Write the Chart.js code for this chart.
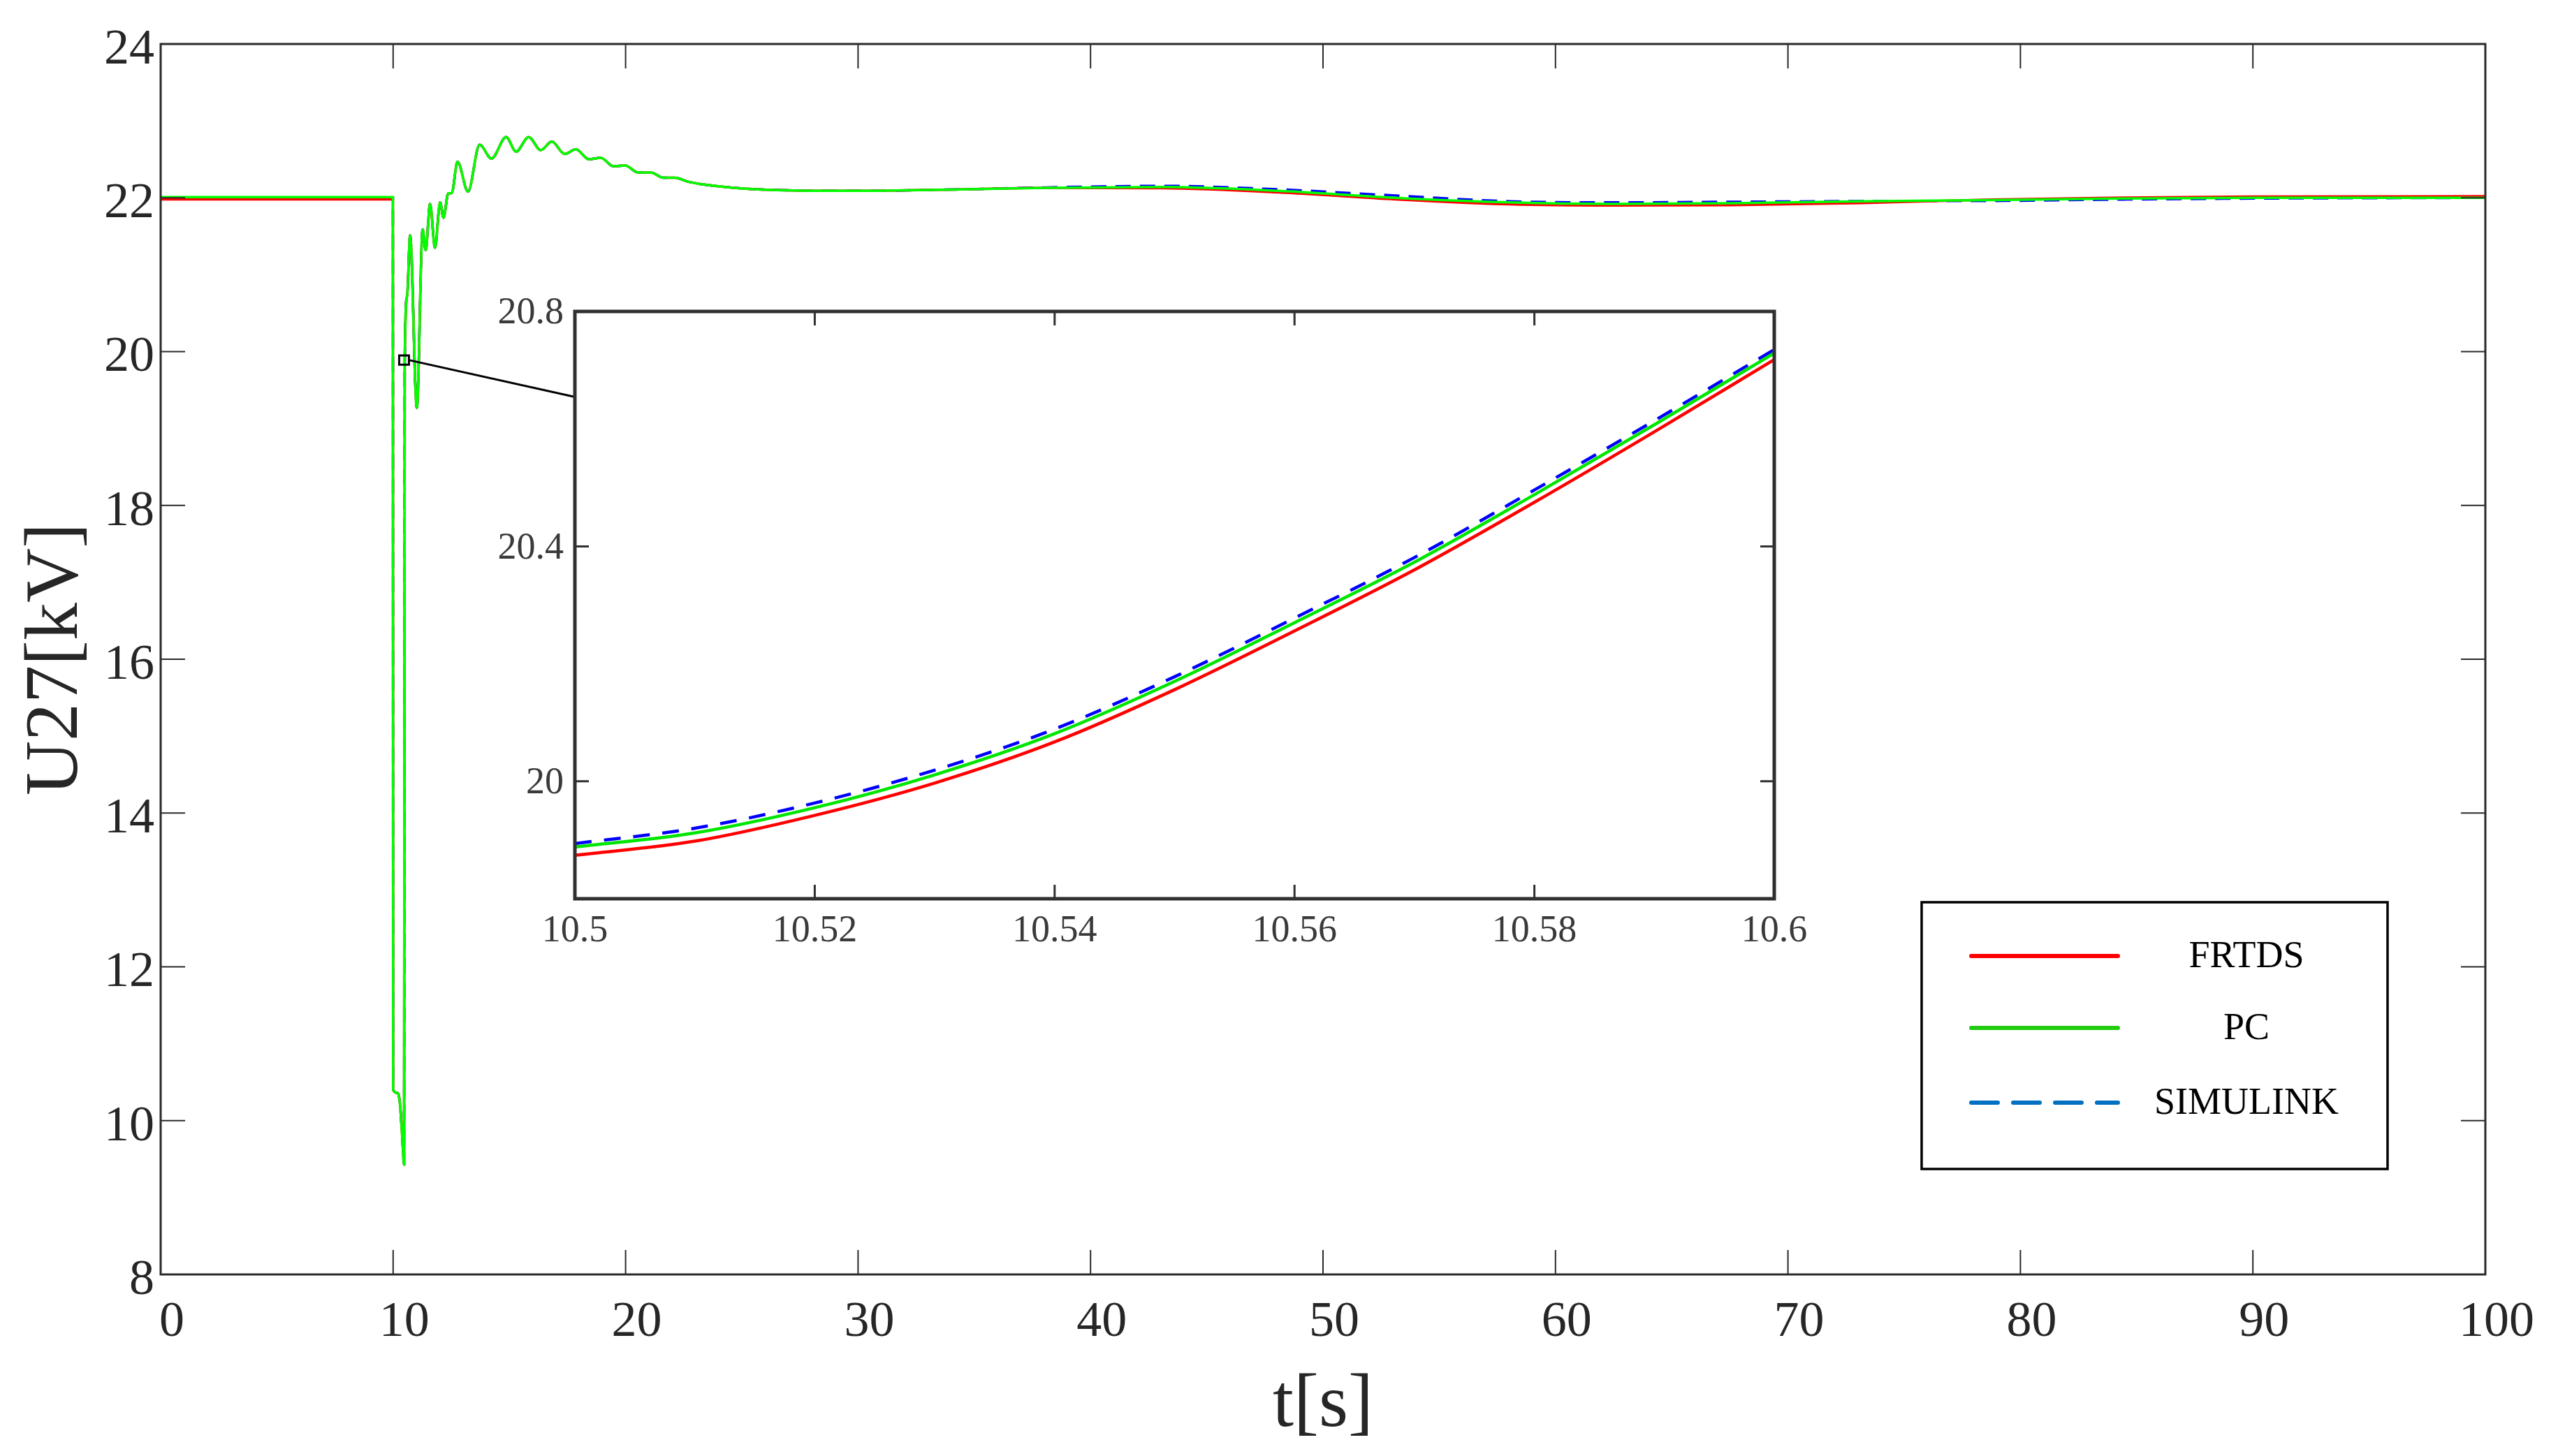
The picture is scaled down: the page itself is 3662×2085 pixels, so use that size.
<!DOCTYPE html>
<html>
<head>
<meta charset="utf-8">
<title>U27</title>
<script src="https://cdn.jsdelivr.net/npm/chart.js@4.4.1/dist/chart.umd.min.js"></script>
<style>
  html, body { margin: 0; padding: 0; background: #fff; }
  #wrap { position: relative; width: 3662px; height: 2085px; }
  #main { position: absolute; left: 0; top: 0; }
  #inset { position: absolute; left: 700px; top: 400px; }
</style>
</head>
<body>
<div id="wrap">
  <canvas id="main" width="3662" height="2085"></canvas>
  <canvas id="inset" width="1940" height="980"></canvas>
</div>
<script>
// ---- main plot data (t in s, U27 in kV) ----
var tTicks = [0, 10, 20, 30, 40, 50, 60, 70, 80, 90, 100];
var uTicks = [8, 10, 12, 14, 16, 18, 20, 22, 24];

var preT = [0, 9.99];
var preRed = [21.98, 21.98];
var preGreen = [22.01, 22.01];
var preBlue = [22.0, 22.0];

// fault transient, the three curves lie on top of each other here
var transT = [10.0, 10.2, 10.3, 10.4, 10.47, 10.5, 10.6, 10.73, 11.02, 11.27, 11.40, 11.59, 11.80, 12.02, 12.17,
              12.37, 12.52, 12.77, 13.22, 13.72, 14.23, 14.86, 15.29, 15.83, 16.35, 16.83, 17.38, 17.86, 18.43,
              18.93, 19.48, 19.98, 20.53, 21.08, 21.63, 22.13, 22.68];
var transU = [10.4, 10.36, 10.2, 9.75, 9.43, 19.87, 20.72, 21.51, 19.27, 21.59, 21.32, 21.92, 21.35, 21.94, 21.74,
              22.06, 22.06, 22.47, 22.08, 22.69, 22.51, 22.79, 22.6, 22.79, 22.62, 22.73, 22.57, 22.63, 22.5,
              22.52, 22.41, 22.42, 22.33, 22.33, 22.26, 22.26, 22.21];

var tailT = [23.2, 25.7, 29.9, 34.4, 38.1, 43.1, 48.1, 53.1, 58.0, 62.5, 67.6, 73.2, 78.8, 84.4, 90.0, 100];
var tailRed = [22.18, 22.11, 22.09, 22.11, 22.13, 22.125, 22.07, 21.98, 21.915, 21.90, 21.905, 21.933, 21.978, 22.003, 22.015, 22.02];
var tailGreen = [22.18, 22.11, 22.09, 22.11, 22.13, 22.14, 22.09, 22.0, 21.94, 21.92, 21.93, 21.955, 21.97, 21.99, 22.0, 22.0];
var tailBlue = [22.18, 22.11, 22.09, 22.11, 22.135, 22.155, 22.11, 22.03, 21.955, 21.94, 21.948, 21.957, 21.96, 21.978, 21.99, 22.0];

// ---- zoomed window 10.5 .. 10.6 s ----
var insetT = [10.50, 10.51, 10.52, 10.53, 10.54, 10.55, 10.56, 10.57, 10.58, 10.59, 10.60];
var insetRed = [19.874, 19.898, 19.942, 19.997, 20.067, 20.156, 20.256, 20.360, 20.475, 20.595, 20.718];
var insetGreen = [19.888, 19.912, 19.955, 20.011, 20.081, 20.170, 20.270, 20.373, 20.488, 20.607, 20.729];
var insetBlue = [19.894, 19.920, 19.963, 20.019, 20.089, 20.178, 20.278, 20.381, 20.496, 20.614, 20.735];
var insetXTicks = [10.5, 10.52, 10.54, 10.56, 10.58, 10.6];
var insetYTicks = [20, 20.4, 20.8];

// little box on the main curve and the line to the zoom window
var markX = [10.26, 10.68];
var markY = [19.83, 19.95];
var linkFrom = [10.68, 19.89];
var linkTo = [17.83, 19.41];

var labels = ["FRTDS", "PC", "SIMULINK"];

var serif = "'Liberation Serif', 'Times New Roman', serif";
var ink = "#262626";

function pts(ts, vs) {
    return ts.map(function (t, i) { return {x: t, y: vs[i]}; });
}

function frameTicks(len, tickW, frameW, color) {
    return {
        id: 'frameTicks',
        afterDatasetsDraw: function (chart) {
            var ctx = chart.ctx, a = chart.chartArea, x = chart.scales.x, y = chart.scales.y;
            ctx.save();
            ctx.strokeStyle = color;
            ctx.lineWidth = tickW;
            ctx.beginPath();
            x.ticks.forEach(function (t) {
                var px = x.getPixelForValue(t.value);
                ctx.moveTo(px, a.bottom); ctx.lineTo(px, a.bottom - len);
                ctx.moveTo(px, a.top); ctx.lineTo(px, a.top + len);
            });
            y.ticks.forEach(function (t) {
                var py = y.getPixelForValue(t.value);
                ctx.moveTo(a.left, py); ctx.lineTo(a.left + len, py);
                ctx.moveTo(a.right, py); ctx.lineTo(a.right - len, py);
            });
            ctx.stroke();
            ctx.lineWidth = frameW;
            ctx.strokeRect(a.left, a.top, a.right - a.left, a.bottom - a.top);
            ctx.restore();
        }
    };
}

var zoomMark = {
    id: 'zoomMark',
    afterDatasetsDraw: function (chart) {
        var ctx = chart.ctx, x = chart.scales.x, y = chart.scales.y;
        ctx.save();
        ctx.strokeStyle = "#000";
        ctx.lineWidth = 3;
        var x0 = x.getPixelForValue(markX[0]), x1 = x.getPixelForValue(markX[1]);
        var y0 = y.getPixelForValue(markY[1]), y1 = y.getPixelForValue(markY[0]);
        ctx.strokeRect(x0, y0, x1 - x0, y1 - y0);
        ctx.beginPath();
        ctx.moveTo(x.getPixelForValue(linkFrom[0]), y.getPixelForValue(linkFrom[1]));
        ctx.lineTo(x.getPixelForValue(linkTo[0]), y.getPixelForValue(linkTo[1]));
        ctx.stroke();
        ctx.restore();
    }
};

// legend box inside the plot, drawn by hand like the figure
var boxLegend = {
    id: 'boxLegend',
    afterDraw: function (chart) {
        var ctx = chart.ctx;
        var cols = ["#ff0000", "#22cc11", "#0070c0"];
        var rows = [1369, 1472, 1579];
        ctx.save();
        ctx.fillStyle = "#fff";
        ctx.fillRect(2751, 1292, 667, 382);
        ctx.strokeStyle = "#000";
        ctx.lineWidth = 3.5;
        ctx.strokeRect(2751, 1292, 667, 382);
        ctx.lineCap = "round";
        ctx.lineWidth = 6;
        ctx.font = "54px " + serif;
        ctx.textAlign = "center";
        ctx.textBaseline = "middle";
        for (var i = 0; i < 3; i++) {
            ctx.strokeStyle = cols[i];
            ctx.setLineDash(i == 2 ? [38, 22] : []);
            ctx.beginPath();
            ctx.moveTo(2822, rows[i]);
            ctx.lineTo(3032, rows[i]);
            ctx.stroke();
            ctx.fillStyle = "#000";
            ctx.fillText(labels[i], 3216, rows[i] + 2);
        }
        ctx.restore();
    }
};

var mainChart = new Chart(document.getElementById("main"), {
    type: 'line',
    data: {
        datasets: [
            {label: labels[0], data: pts(preT.concat(transT, tailT), preRed.concat(transU, tailRed)),
             borderColor: "#ff0000", order: 1},
            {label: labels[1], data: pts(preT.concat(transT, tailT), preGreen.concat(transU, tailGreen)),
             borderColor: "#00ff00", order: 0},
            {label: labels[2], data: pts(preT.concat(transT, tailT), preBlue.concat(transU, tailBlue)),
             borderColor: "#0000ff", borderDash: [22, 13], order: 2}
        ]
    },
    options: {
        responsive: false,
        animation: false,
        devicePixelRatio: 1,
        layout: {padding: {left: 0, top: 63, right: 104, bottom: 0}},
        plugins: {legend: {display: false}, tooltip: {enabled: false}},
        elements: {
            point: {radius: 0},
            line: {borderWidth: 3.5, cubicInterpolationMode: 'monotone', fill: false}
        },
        scales: {
            x: {
                type: 'linear', min: 0, max: 100,
                afterBuildTicks: function (s) { s.ticks = tTicks.map(function (v) { return {value: v}; }); },
                afterFit: function (s) { s.height = 260; s.paddingLeft = 0; s.paddingRight = 0; },
                grid: {display: false, drawTicks: false},
                border: {display: false},
                ticks: {padding: 26, labelOffset: 16, color: ink, font: {family: serif, size: 72}, maxRotation: 0, autoSkip: false},
                title: {display: true, text: "t[s]", color: ink, font: {family: serif, size: 108}, padding: {top: 0, bottom: 7}}
            },
            y: {
                type: 'linear', min: 8, max: 24,
                afterBuildTicks: function (s) { s.ticks = uTicks.map(function (v) { return {value: v}; }); },
                afterFit: function (s) { s.width = 230; s.paddingTop = 0; s.paddingBottom = 0; },
                grid: {display: false, drawTicks: false},
                border: {display: false},
                ticks: {padding: 9, labelOffset: 9, color: ink, font: {family: serif, size: 72}, autoSkip: false},
                title: {display: true, text: "U27[kV]", color: ink, font: {family: serif, size: 108}, padding: {top: 17, bottom: 0}}
            }
        }
    },
    plugins: [frameTicks(35, 2, 3, "#2a2a2a"), zoomMark, boxLegend]
});

var insetChart = new Chart(document.getElementById("inset"), {
    type: 'line',
    data: {
        datasets: [
            {label: labels[0], data: pts(insetT, insetRed), borderColor: "#ff0000", order: 1},
            {label: labels[1], data: pts(insetT, insetGreen), borderColor: "#00e600", order: 0},
            {label: labels[2], data: pts(insetT, insetBlue), borderColor: "#0000ff", borderDash: [24, 18], order: 2}
        ]
    },
    options: {
        responsive: false,
        animation: false,
        devicePixelRatio: 1,
        layout: {padding: {left: 0, top: 46, right: 100, bottom: 0}},
        plugins: {legend: {display: false}, tooltip: {enabled: false}},
        elements: {
            point: {radius: 0},
            line: {borderWidth: 4.5, cubicInterpolationMode: 'monotone', fill: false}
        },
        scales: {
            x: {
                type: 'linear', min: 10.5, max: 10.6,
                afterBuildTicks: function (s) { s.ticks = insetXTicks.map(function (v) { return {value: v}; }); },
                afterFit: function (s) { s.height = 93; s.paddingLeft = 0; s.paddingRight = 0; },
                grid: {display: false, drawTicks: false},
                border: {display: false},
                ticks: {padding: 14, color: "#3a3a3a", font: {family: serif, size: 54}, maxRotation: 0, autoSkip: false,
                        callback: function (v) { return v.toFixed(2).replace(/0$/, ""); }}
            },
            y: {
                type: 'linear', min: 19.8, max: 20.8,
                afterBuildTicks: function (s) { s.ticks = insetYTicks.map(function (v) { return {value: v}; }); },
                afterFit: function (s) { s.width = 123; s.paddingTop = 0; s.paddingBottom = 0; },
                grid: {display: false, drawTicks: false},
                border: {display: false},
                ticks: {padding: 16, labelOffset: 3, color: "#3a3a3a", font: {family: serif, size: 54}, autoSkip: false,
                        callback: function (v) { return String(+v.toFixed(1)); }}
            }
        }
    },
    plugins: [frameTicks(20, 3, 5, "#303030")]
});
</script>
</body>
</html>
